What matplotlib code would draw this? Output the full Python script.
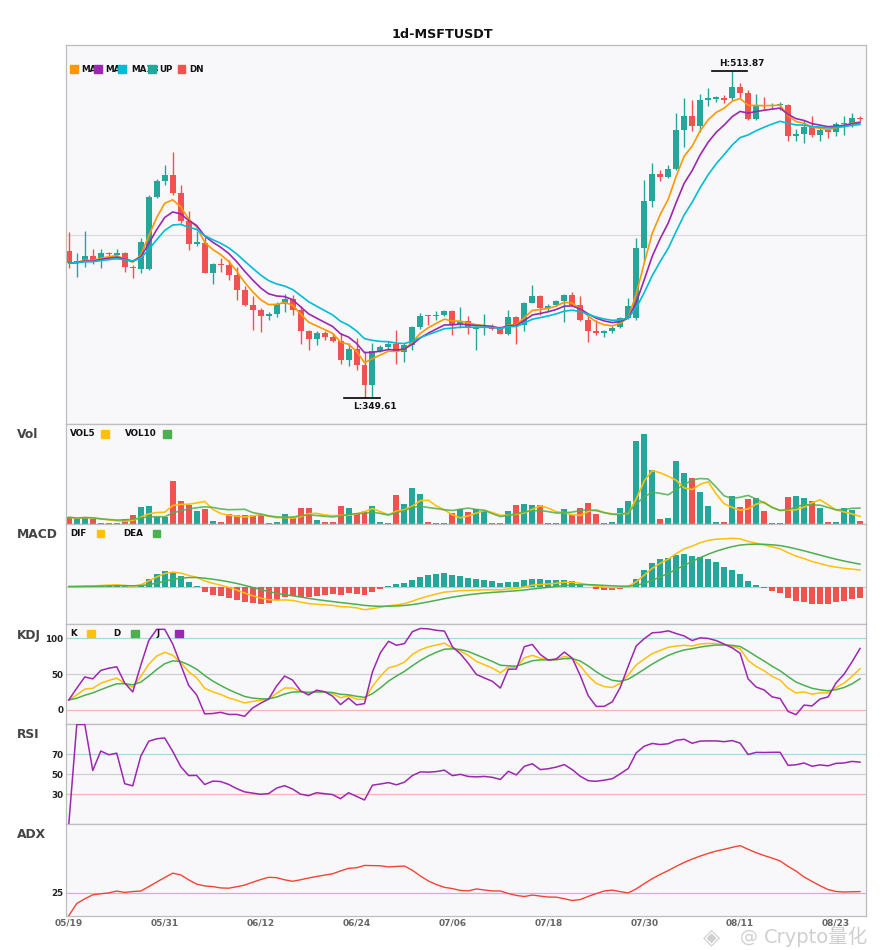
import numpy as np
import pandas as pd
import matplotlib
matplotlib.use("Agg")
import matplotlib.pyplot as plt
from matplotlib.patches import Rectangle

# ---------------- data ----------------
start_date = "2025-05-19"
n_days = 100
dates = pd.date_range(start_date, periods=n_days, freq="D")

open_ = [423.52, 417.35, 418.50, 421.01, 419.50, 422.50, 421.52, 422.52, 415.64, 414.64,
         414.64, 450.78, 458.66, 461.67, 452.78, 438.73, 427.19, 427.39, 412.63, 417.00,
         416.35, 411.48, 403.60, 396.42, 393.56, 390.90, 391.55, 396.92, 399.43, 393.56,
         383.02, 379.36, 382.22, 380.21, 378.35, 368.82, 374.34, 365.96, 355.92, 373.33,
         374.99, 376.85, 372.68, 375.99, 385.23, 390.90, 390.55, 391.40, 393.41, 386.38,
         388.04, 384.23, 384.73, 385.23, 384.23, 381.87, 390.25, 386.38, 397.27, 400.94,
         394.76, 396.07, 398.08, 401.44, 396.42, 388.89, 383.02, 382.22, 383.37, 385.03,
         389.74, 389.74, 425.18, 448.62, 462.17, 460.81, 464.68, 484.25, 491.28, 486.26,
         499.60, 500.10, 500.46, 500.16, 505.68, 502.97, 489.77, 496.80, 496.30, 496.80,
         497.00, 481.39, 482.40, 485.91, 481.74, 484.25, 483.40, 487.26, 487.92, 490.43]
high = [433.21, 422.37, 433.71, 424.53, 424.53, 423.17, 424.53, 422.80, 416.50, 429.90,
        451.63, 459.66, 466.69, 473.06, 456.65, 443.60, 433.71, 430.70, 417.30, 419.86,
        419.01, 415.64, 405.61, 400.59, 394.76, 392.56, 397.57, 401.94, 401.44, 395.57,
        383.87, 383.02, 383.02, 382.22, 382.22, 377.20, 379.71, 372.98, 377.20, 376.34,
        378.00, 383.87, 377.20, 385.50, 392.25, 391.40, 393.06, 393.91, 393.91, 395.42,
        390.90, 386.38, 391.75, 386.89, 385.50, 393.91, 390.55, 397.57, 406.46, 401.10,
        396.77, 398.93, 401.79, 402.79, 400.94, 390.55, 388.89, 383.50, 385.88, 390.05,
        399.78, 430.20, 459.16, 467.84, 464.18, 466.69, 492.63, 500.16, 499.31, 502.17,
        505.18, 501.47, 501.82, 513.87, 507.69, 504.33, 502.17, 500.97, 497.65, 498.46,
        497.40, 484.75, 489.27, 491.28, 485.91, 484.75, 488.42, 491.28, 492.94, 491.43]
low = [414.84, 410.62, 415.64, 416.85, 415.14, 420.66, 419.50, 413.13, 409.82, 412.33,
       414.00, 450.28, 456.65, 451.63, 437.43, 424.02, 426.03, 412.33, 406.96, 413.13,
       408.62, 398.58, 395.57, 383.87, 382.52, 388.54, 390.25, 392.56, 391.05, 376.85,
       373.48, 376.34, 378.85, 377.70, 366.81, 365.45, 363.80, 349.61, 350.10, 372.83,
       374.34, 366.81, 367.66, 373.83, 384.23, 386.38, 388.89, 390.55, 381.36, 384.88,
       381.87, 373.48, 381.36, 383.52, 381.50, 381.36, 376.85, 383.37, 397.20, 391.40,
       393.06, 395.57, 387.54, 395.57, 388.04, 377.50, 381.01, 380.01, 382.22, 384.73,
       389.40, 388.90, 418.50, 445.76, 458.66, 460.30, 464.18, 475.87, 483.75, 483.10,
       496.45, 498.46, 497.96, 499.31, 500.16, 489.50, 489.27, 494.29, 495.45, 494.29,
       478.73, 478.73, 477.58, 481.00, 478.73, 480.09, 481.39, 481.74, 485.91, 488.77]
close = [417.35, 418.50, 421.01, 418.15, 422.37, 421.87, 422.37, 415.64, 414.84, 428.04,
         450.78, 458.66, 461.67, 452.78, 438.73, 427.19, 427.39, 412.63, 417.00, 416.35,
         411.48, 403.60, 396.42, 393.56, 390.90, 391.55, 396.92, 399.43, 393.56, 383.02,
         379.36, 382.22, 380.21, 378.35, 368.82, 374.34, 365.96, 355.92, 373.33, 374.99,
         376.85, 372.68, 375.99, 385.23, 390.90, 390.55, 391.40, 393.41, 386.38, 388.04,
         385.23, 384.73, 385.23, 384.23, 381.87, 390.25, 386.38, 397.27, 400.94, 394.76,
         395.92, 398.08, 401.44, 396.42, 388.89, 383.02, 382.22, 383.37, 384.73, 389.74,
         395.92, 425.18, 448.62, 462.17, 460.81, 464.68, 484.25, 491.28, 486.26, 499.31,
         500.46, 500.46, 499.60, 505.68, 502.97, 489.77, 496.45, 496.30, 496.80, 497.00,
         481.24, 482.40, 485.91, 481.74, 484.25, 483.10, 487.26, 487.92, 490.43, 489.77]
volume = [6.7, 5.3, 7.3, 5.3, 1.3, 1.3, 0.7, 5.3, 9.3, 17.3,
          18.3, 7.3, 6.7, 42.7, 23.3, 19.3, 13.3, 14.7, 3.3, 2.3,
          10.3, 9.3, 9.3, 9.3, 9.3, 1.3, 2.3, 10.3, 6.3, 16.3,
          16.3, 4.3, 2.3, 2.3, 18.3, 16.3, 11.3, 13.3, 18.3, 2.3,
          1.3, 29.3, 20.3, 36.3, 30.3, 2.3, 1.3, 0.7, 11.3, 15.3,
          12.3, 15.3, 13.3, 1.3, 1.3, 13.3, 19.3, 20.3, 19.3, 19.3,
          1.3, 1.3, 15.3, 8.7, 16.3, 21.3, 10.3, 0.7, 2.3, 16.3,
          23.3, 83.3, 90.3, 54.3, 5.3, 6.3, 63.3, 51.3, 46.3, 32.3,
          18.3, 2.3, 2.3, 28.3, 17.3, 25.3, 26.3, 13.3, 1.3, 1.3,
          27.3, 28.3, 26.3, 23.3, 16.3, 2.3, 2.3, 16.3, 13.7, 3.3]

ema_periods = [5, 8, 13]
tick_step = 12

# ---------------- colours ----------------
UP = "#26A69A"
DN = "#EF5350"
MA_COLORS = ["#FF9800", "#9C27B0", "#00BCD4"]
AMBER = "#FFC107"
GREEN = "#4CAF50"
PURPLE = "#9C27B0"
BG = "#F8F8FB"
SPINE = "#BDBDBD"

# ---------------- indicators ----------------
o = pd.Series(open_, dtype=float)
h = pd.Series(high, dtype=float)
l = pd.Series(low, dtype=float)
c = pd.Series(close, dtype=float)
v = pd.Series(volume, dtype=float)
x = np.arange(len(c))
up_mask = (c >= o).values

emas = [c.ewm(span=p, adjust=False).mean() for p in ema_periods]
vol5 = v.rolling(5, min_periods=1).mean()
vol10 = v.rolling(10, min_periods=1).mean()

dif = c.ewm(span=12, adjust=False).mean() - c.ewm(span=26, adjust=False).mean()
dea = dif.ewm(span=9, adjust=False).mean()
hist = 2 * (dif - dea)

low9 = l.rolling(9, min_periods=1).min()
high9 = h.rolling(9, min_periods=1).max()
rsv = ((c - low9) / (high9 - low9) * 100).fillna(50)
K = rsv.ewm(com=2, adjust=False).mean()
D = K.ewm(com=2, adjust=False).mean()
J = 3 * K - 2 * D

delta = c.diff().fillna(0)
gain = delta.clip(lower=0).ewm(alpha=1 / 14, adjust=False).mean()
loss = (-delta.clip(upper=0)).ewm(alpha=1 / 14, adjust=False).mean()
rsi = (100 * gain / (gain + loss)).fillna(0)

up_move = h.diff()
dn_move = -l.diff()
pdm = pd.Series(np.where((up_move > dn_move) & (up_move > 0), up_move, 0.0))
mdm = pd.Series(np.where((dn_move > up_move) & (dn_move > 0), dn_move, 0.0))
prev_c = c.shift(1)
tr = pd.concat([h - l, (h - prev_c).abs(), (l - prev_c).abs()], axis=1).max(axis=1)
atr = tr.ewm(span=14, adjust=False).mean()
pdi = 100 * pdm.ewm(span=14, adjust=False).mean() / atr
mdi = 100 * mdm.ewm(span=14, adjust=False).mean() / atr
dx = (100 * (pdi - mdi).abs() / (pdi + mdi)).fillna(0)
adx = dx.ewm(span=14, adjust=False).mean()

# ---------------- figure layout ----------------
W, H = 885, 950
fig = plt.figure(figsize=(W / 100, H / 100), dpi=100)
fig.patch.set_facecolor("white")


def fx(px):
    return px / W


def fy(py):
    return 1 - py / H


def add_ax(top, bottom):
    ax = fig.add_axes([fx(66), fy(bottom), fx(866) - fx(66), (bottom - top) / H])
    ax.set_facecolor(BG)
    for s in ax.spines.values():
        s.set_color(SPINE)
        s.set_linewidth(0.9)
    ax.tick_params(length=0, labelsize=6.3, pad=2)
    ax.set_xlim(-0.35, 99.75)
    ax.set_xticks([])
    ax.set_yticks([])
    return ax


ax_main = add_ax(45, 424)
ax_vol = add_ax(424, 524)
ax_macd = add_ax(524, 624)
ax_kdj = add_ax(624, 724)
ax_rsi = add_ax(724, 824)
ax_adx = add_ax(824, 915.7)

# ---------------- main candlestick ----------------
cols = np.where(up_mask, UP, DN)
body_lo = np.minimum(o, c)
body_h = np.maximum((c - o).abs(), 0.6)
ax_main.vlines(x, l, h, colors=cols, linewidth=1.0, zorder=2)
ax_main.bar(x, body_h, bottom=body_lo, width=0.75, color=cols, zorder=2.5, linewidth=0)
for e, col in zip(emas, MA_COLORS):
    ax_main.plot(x, e, color=col, lw=1.2, zorder=3)

hi_idx = int(h.idxmax())
lo_idx = int(l.idxmin())
hi_v, lo_v = h.max(), l.min()
rng = hi_v - lo_v
ax_main.set_ylim(lo_v - 0.08 * rng, hi_v + 0.08 * rng)
ax_main.axhline((hi_v + lo_v) / 2, color="#DCDCE0", lw=0.9, zorder=1)

ax_main.plot([hi_idx - 2.55, hi_idx + 1.9], [hi_v, hi_v], color="black", lw=1.2, zorder=4)
ax_main.annotate(f"H:{hi_v:.2f}", (hi_idx + 1.25, hi_v), xytext=(0, 2.5), textcoords="offset points",
                 ha="center", va="bottom", fontsize=6.4, weight="bold", color="#111")
ax_main.plot([lo_idx - 2.55, lo_idx + 1.9], [lo_v, lo_v], color="black", lw=1.2, zorder=4)
ax_main.annotate(f"L:{lo_v:.2f}", (lo_idx + 1.25, lo_v), xytext=(0, -3), textcoords="offset points",
                 ha="center", va="top", fontsize=6.4, weight="bold", color="#111")

# ---------------- volume ----------------
ax_vol.bar(x, v, width=0.75, color=cols, linewidth=0, zorder=2)
ax_vol.plot(x, vol5, color=AMBER, lw=1.2, zorder=3)
ax_vol.plot(x, vol10, color=GREEN, lw=1.2, alpha=0.85, zorder=3)
ax_vol.set_ylim(0, v.max() * 1.11)

# ---------------- MACD ----------------
ax_macd.bar(x, hist, width=0.75, color=np.where(hist >= 0, UP, DN), linewidth=0, zorder=2)
ax_macd.axhline(0, color="#C8C8CC", lw=0.9, zorder=1)
ax_macd.plot(x, dif, color=AMBER, lw=1.1, zorder=3)
ax_macd.plot(x, dea, color=GREEN, lw=1.1, zorder=3)
m_lo = min(dif.min(), dea.min(), hist.min())
m_hi = max(dif.max(), dea.max(), hist.max())
m_r = m_hi - m_lo
ax_macd.set_ylim(m_lo - 0.2 * m_r, m_hi + 0.2 * m_r)

# ---------------- KDJ ----------------
ax_kdj.axhline(100, color="#A8D8D8", lw=0.9, zorder=1)
ax_kdj.axhline(50, color="#CFCFD3", lw=0.9, zorder=1)
ax_kdj.axhline(0, color="#F5B5B5", lw=0.9, zorder=1)
ax_kdj.plot(x, K, color=AMBER, lw=1.1, zorder=3)
ax_kdj.plot(x, D, color=GREEN, lw=1.1, zorder=3)
ax_kdj.plot(x, J, color=PURPLE, lw=1.1, zorder=3)
ax_kdj.set_ylim(-20, 120)
ax_kdj.set_yticks([0, 50, 100])

# ---------------- RSI ----------------
ax_rsi.axhline(70, color="#A8D8D8", lw=0.9, zorder=1)
ax_rsi.axhline(50, color="#CFCFD3", lw=0.9, zorder=1)
ax_rsi.axhline(30, color="#F5B5B5", lw=0.9, zorder=1)
ax_rsi.plot(x, rsi, color=PURPLE, lw=1.1, zorder=3)
ax_rsi.set_ylim(0, 100.5)
ax_rsi.set_yticks([30, 50, 70])

# ---------------- ADX ----------------
ax_adx.axhline(25, color="#DCA8E4", lw=0.9, zorder=1)
ax_adx.plot(x, adx, color="#F44336", lw=1.0, zorder=3)
ax_adx.set_ylim(0, 100)
ax_adx.set_yticks([25])

for ax in (ax_kdj, ax_rsi, ax_adx):
    for lab in ax.get_yticklabels():
        lab.set_fontweight("bold")
        lab.set_color("#222")

ticks = list(range(0, len(x), tick_step))
ax_adx.set_xticks(ticks)
ax_adx.set_xticklabels([dates[i].strftime("%m/%d") for i in ticks], fontsize=6.5,
                       fontweight="bold", color="#666")
ax_adx.tick_params(axis="x", pad=2)

# ---------------- labels / legends ----------------
fig.text(0.5, fy(34), "1d-MSFTUSDT", ha="center", va="center", fontsize=9.2,
         weight="bold", color="#111")

for label, ypos in [("Vol", 435), ("MACD", 535), ("KDJ", 635), ("RSI", 735), ("ADX", 835)]:
    fig.text(fx(17), fy(ypos), label, ha="left", va="center", fontsize=8.8,
             weight="bold", color="#444")


def leg_text(xp, yp, s):
    fig.text(fx(xp), fy(yp), s, ha="left", va="center", fontsize=6.3,
             weight="bold", color="#111", zorder=5)


def leg_sq(xp, yp, color, size=7.7):
    fig.add_artist(Rectangle((fx(xp), fy(yp + size / 2)), size / W, size / H,
                             transform=fig.transFigure, color=color, zorder=6))


# main legend (squares drawn over overflowing labels)
main_items = [("MA%d" % ema_periods[0], MA_COLORS[0], 70, 81),
              ("MA%d" % ema_periods[1], MA_COLORS[1], 94.3, 105),
              ("MA%d" % ema_periods[2], MA_COLORS[2], 118.3, 131),
              ("UP", UP, 148.3, 159.5),
              ("DN", DN, 177.7, 189)]
for s, col, sqx, tx in main_items:
    leg_text(tx, 69, s)
    leg_sq(sqx, 69, col)

leg_text(70, 434, "VOL5"); leg_sq(101, 434, AMBER)
leg_text(125.3, 434, "VOL10"); leg_sq(163, 434, GREEN)

leg_text(70, 533.5, "DIF"); leg_sq(96.7, 533.5, AMBER)
leg_text(123.3, 533.5, "DEA"); leg_sq(152.7, 533.5, GREEN)

leg_text(70, 633.5, "K"); leg_sq(87.3, 633.5, AMBER)
leg_text(113.3, 633.5, "D"); leg_sq(131, 633.5, GREEN)
leg_text(156.7, 633.5, "J"); leg_sq(175, 633.5, PURPLE)

# watermark (kept just below the date labels)
wm_y = 937
fig.text(fx(703), fy(wm_y), "◈", ha="left", va="center", fontsize=16, color="#B0B0B0", alpha=0.6)
fig.text(fx(740), fy(wm_y), "@", ha="left", va="center", fontsize=13, color="#B0B0B0", alpha=0.6)
fig.text(fx(764), fy(wm_y), "Crypto量化", ha="left", va="center", fontsize=14,
         color="#B0B0B0", alpha=0.6, family=["DejaVu Sans", "Noto Sans CJK SC"])

fig.savefig("out.png", dpi=100, facecolor="white")
